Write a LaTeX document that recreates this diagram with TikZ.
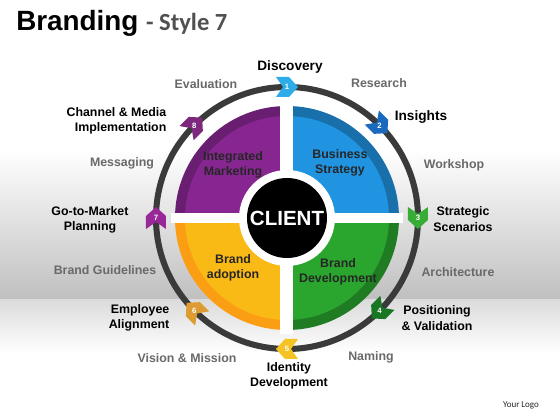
\documentclass[tikz,border=0pt]{standalone}
\usepackage{fontspec}
\setmainfont{Liberation Sans}
\newfontfamily\logofont{Carlito}
\definecolor{quadpurple}{RGB}{135, 38, 145}
\definecolor{quadblue}{RGB}{32, 148, 225}
\definecolor{quadyellow}{RGB}{250, 186, 22}
\definecolor{quadgreen}{RGB}{42, 165, 45}
\definecolor{mark1}{RGB}{45, 172, 232}
\definecolor{mark2}{RGB}{25, 105, 190}
\definecolor{mark3}{RGB}{55, 172, 55}
\definecolor{mark4}{RGB}{25, 118, 35}
\definecolor{mark5}{RGB}{245, 195, 35}
\definecolor{mark6}{RGB}{222, 155, 50}
\definecolor{mark7}{RGB}{152, 40, 152}
\definecolor{mark8}{RGB}{125, 40, 125}
\definecolor{ringgray}{RGB}{58, 58, 58}
\definecolor{labelgray}{RGB}{105, 105, 105}
\definecolor{titlegray}{RGB}{80, 80, 80}
\usetikzlibrary{positioning}
\tikzset{
    steplabel/.style={font=\bfseries\fontsize{8.8}{11}\selectfont, align=center, text=black, inner sep=1pt},
    bigstep/.style={steplabel, font=\bfseries\fontsize{9.7}{11.4}\selectfont},
    sublabel/.style={font=\bfseries\fontsize{8.8}{10}\selectfont, text=labelgray, inner sep=1pt},
    quadlabel/.style={font=\bfseries\fontsize{8.8}{10.6}\selectfont, align=center, text=black!85, inner sep=1pt},
    marknum/.style={font=\bfseries\fontsize{5.5}{6}\selectfont, text=white, inner sep=0pt},
}

\begin{document}
\begin{tikzpicture}[x=0.025cm, y=0.025cm]
    \useasboundingbox (-287,-202) rectangle (273,218);

    % Background
    \fill[white] (-287,-202) rectangle (273,218);
    \shade[top color=white, bottom color=black!25] (-287,68) rectangle (273,-82);
    \shade[top color=black!14, bottom color=white] (-287,-82) rectangle (273,-135);

    % Title
    \node[anchor=base west, font=\bfseries\fontsize{19.8}{22}\selectfont, inner sep=0pt] (title) at (-271,187) {Branding};
    \node[anchor=base west, font=\logofont\bfseries\fontsize{17.5}{20}\selectfont, text=titlegray, inner sep=0pt] (subtitle) at ([xshift=5pt]title.base east) {- Style 7};

    % Quadrants
    \fill[quadpurple!78!black] (0,0) -- (90:112) arc[start angle=90, end angle=180, radius=112] -- cycle;
    \fill[quadpurple] (0,0) -- (90:102) arc[start angle=90, end angle=180, radius=102] -- cycle;
    \fill[quadblue!75!black] (0,0) -- (0:112) arc[start angle=0, end angle=90, radius=112] -- cycle;
    \fill[quadblue] (0,0) -- (0:102) arc[start angle=0, end angle=90, radius=102] -- cycle;
    \fill[quadyellow!85!red] (0,0) -- (180:112) arc[start angle=180, end angle=270, radius=112] -- cycle;
    \fill[quadyellow] (0,0) -- (180:102) arc[start angle=180, end angle=270, radius=102] -- cycle;
    \fill[quadgreen!75!black] (0,0) -- (270:112) arc[start angle=270, end angle=360, radius=112] -- cycle;
    \fill[quadgreen] (0,0) -- (270:102) arc[start angle=270, end angle=360, radius=102] -- cycle;

    % White cross and hub
    \fill[white] (-6.5,-116) rectangle (6.5,116);
    \fill[white] (-116,-5) rectangle (116,5);
    \fill[white] (0,0) circle (48);
    \node[circle, fill=black, minimum size=2cm, inner sep=0pt, text=white, font=\bfseries\fontsize{14.6}{16}\selectfont] (client) at (0,0) {CLIENT};

    % Quadrant labels
    \node[quadlabel] (marketing) at (-54,53) {Integrated\\Marketing};
    \node[quadlabel] (strategy) at (53,55) {Business\\Strategy};
    \node[quadlabel] (adoption) at (-54,-50) {Brand\\adoption};
    \node[quadlabel] (development) at (51,-54) {Brand\\Development};

    % Ring with step markers
    \draw[ringgray, line width=4.3pt] (0,0) circle (131);
    \foreach \a/\c/\n in {90/mark1/1, 45/mark2/2, 0/mark3/3, -45/mark4/4, -90/mark5/5, -135/mark6/6, 180/mark7/7, 135/mark8/8} {
        \fill[\c, shift={(\a:131)}, rotate=\a-90] (-11,-10) -- (2,-10) -- (11,0) -- (2,10) -- (-11,10) -- (-4,0) -- cycle;
        \node[marknum] (mark\n) at (\a:131) {\n};
    }

    % Steps
    \node[bigstep] (discovery) at (3,151) {Discovery};
    \node[bigstep] (insights) at (134,101) {Insights};
    \node[steplabel] (scenarios) at (176,-1) {Strategic\\Scenarios};
    \node[steplabel] (positioning) at (150,-100) {Positioning\\\& Validation};
    \node[steplabel] (identity) at (2,-158) {Identity\\Development};
    \node[steplabel, align=right, anchor=east] (alignment) at (-116,-100) {Employee\\Alignment};
    \node[steplabel] (gotomarket) at (-197,-2) {Go-to-Market\\Planning};
    \node[steplabel, align=right, anchor=east] (channel) at (-119,97) {Channel \& Media\\Implementation};

    % Between steps
    \node[sublabel] (research) at (92,135) {Research};
    \node[sublabel] (workshop) at (167,53) {Workshop};
    \node[sublabel] (architecture) at (171,-54) {Architecture};
    \node[sublabel] (naming) at (84,-139) {Naming};
    \node[sublabel] (vision) at (-100,-140) {Vision \& Mission};
    \node[sublabel] (guidelines) at (-182,-52) {Brand Guidelines};
    \node[sublabel] (messaging) at (-165,55) {Messaging};
    \node[sublabel] (evaluation) at (-81,134) {Evaluation};

    % Logo
    \node[font=\logofont\fontsize{6.4}{7}\selectfont, text=black!85] (logo) at (234,-187) {Your Logo};
\end{tikzpicture}
\end{document}
